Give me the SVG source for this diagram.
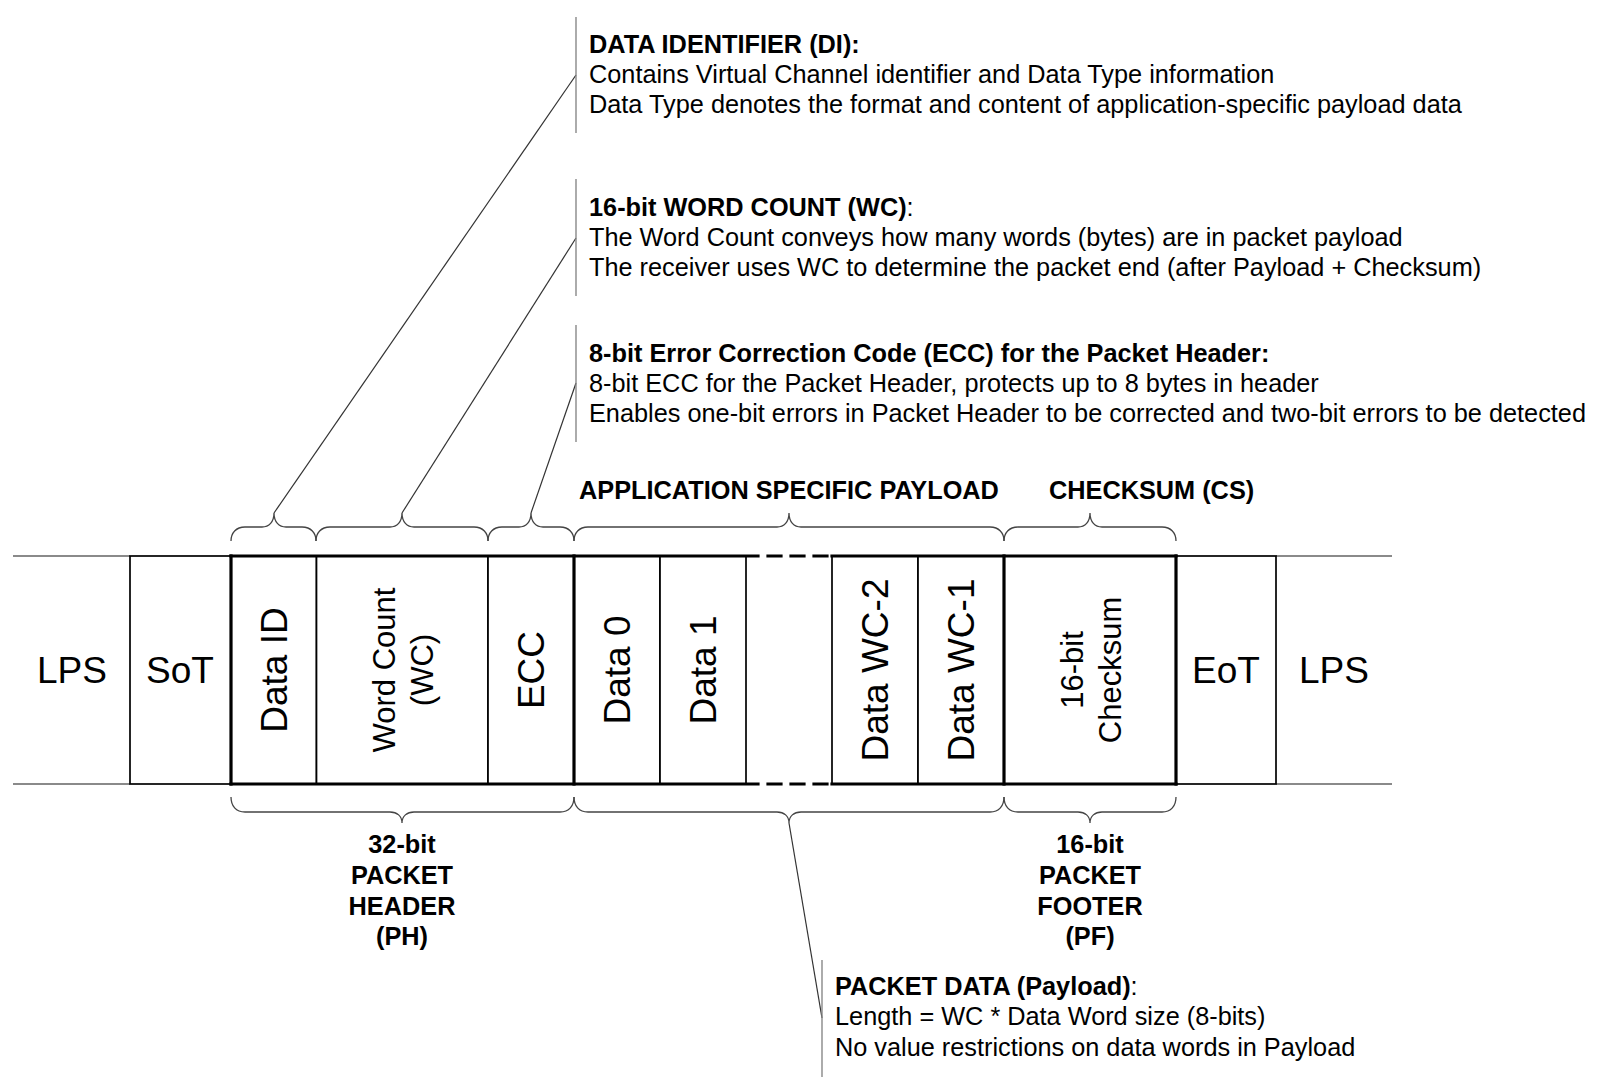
<svg xmlns="http://www.w3.org/2000/svg" width="1598" height="1080" viewBox="0 0 1598 1080">
<style>
  text { font-family: "Liberation Sans", Arial, Helvetica, sans-serif; fill: #000; }
  .big { font-size: 37px; }
  .mid { font-size: 31px; }
  .note { font-size: 25.3px; }
  .b { font-weight: bold; }
  .cell { fill: #fff; stroke: #000; stroke-width: 1.7; }
  .thick { stroke: #000; stroke-width: 3.2; fill: none; stroke-linecap: square; }
  .thin { stroke: #000; stroke-width: 1.7; fill: none; }
  .lps { stroke: #8a8a8a; stroke-width: 2; fill: none; }
  .brace { stroke: #444; stroke-width: 1.3; fill: none; }
  .leader { stroke: #333; stroke-width: 1.2; fill: none; }
  .bar { stroke: #888; stroke-width: 1.4; fill: none; }
</style>
<rect x="0" y="0" width="1598" height="1080" fill="#fff"/>

<!-- LPS lines -->
<g id="lps-left">
  <line class="lps" x1="13" y1="556" x2="130" y2="556"/>
  <line class="lps" x1="13" y1="784" x2="130" y2="784"/>
  <text class="big" x="72" y="683" text-anchor="middle">LPS</text>
</g>
<g id="lps-right">
  <line class="lps" x1="1276" y1="556" x2="1392" y2="556"/>
  <line class="lps" x1="1276" y1="784" x2="1392" y2="784"/>
  <text class="big" x="1334" y="683" text-anchor="middle">LPS</text>
</g>

<g id="sot">
  <rect class="cell" x="130" y="556" width="101" height="228"/>
  <text class="big" x="180" y="683" text-anchor="middle">SoT</text>
</g>
<g id="eot">
  <rect class="cell" x="1176" y="556" width="100" height="228"/>
  <text class="big" x="1226" y="683" text-anchor="middle">EoT</text>
</g>

<g id="data-id">
  <rect class="cell" x="231" y="556" width="85.5" height="228"/>
  <text class="big" transform="translate(273.5,670) rotate(-90)" x="0" y="13" text-anchor="middle">Data ID</text>
</g>
<g id="word-count">
  <rect class="cell" x="316.5" y="556" width="171.5" height="228"/>
  <text class="mid" transform="translate(402,670) rotate(-90)" text-anchor="middle"><tspan x="0" y="-7">Word Count</tspan><tspan x="0" y="31">(WC)</tspan></text>
</g>
<g id="ecc">
  <rect class="cell" x="488" y="556" width="86" height="228"/>
  <text class="big" transform="translate(531,670) rotate(-90)" x="0" y="13" text-anchor="middle">ECC</text>
</g>
<g id="data0">
  <rect class="cell" x="574" y="556" width="86" height="228"/>
  <text class="big" transform="translate(617,670) rotate(-90)" x="0" y="13" text-anchor="middle">Data 0</text>
</g>
<g id="data1">
  <rect class="cell" x="660" y="556" width="86" height="228"/>
  <text class="big" transform="translate(703,670) rotate(-90)" x="0" y="13" text-anchor="middle">Data 1</text>
</g>
<g id="data-wc2">
  <rect class="cell" x="832" y="556" width="86" height="228"/>
  <text class="big" transform="translate(875,670) rotate(-90)" x="0" y="13" text-anchor="middle">Data WC-2</text>
</g>
<g id="data-wc1">
  <rect class="cell" x="918" y="556" width="86" height="228"/>
  <text class="big" transform="translate(961,670) rotate(-90)" x="0" y="13" text-anchor="middle">Data WC-1</text>
</g>
<g id="checksum">
  <rect class="cell" x="1004" y="556" width="172" height="228"/>
  <text class="mid" transform="translate(1090,670) rotate(-90)" text-anchor="middle"><tspan x="0" y="-7">16-bit</tspan><tspan x="0" y="31">Checksum</tspan></text>
</g>

<!-- packet frame (thick outline and dashed gap) -->
<g id="packet-frame">
  <line class="thick" x1="231" y1="556" x2="758" y2="556"/>
  <line class="thick" x1="231" y1="784" x2="758" y2="784"/>
  <line class="thick" x1="832" y1="556" x2="1176" y2="556"/>
  <line class="thick" x1="832" y1="784" x2="1176" y2="784"/>
  <path class="thick" stroke-linecap="butt" d="M768,556 H781 M791,556 H804 M814,556 H827 M768,784 H781 M791,784 H804 M814,784 H827"/>
  <line class="thick" x1="231" y1="556" x2="231" y2="784"/>
  <line class="thick" x1="574" y1="556" x2="574" y2="784"/>
  <line class="thick" x1="1004" y1="556" x2="1004" y2="784"/>
  <line class="thick" x1="1176" y1="556" x2="1176" y2="784"/>
</g>

<!-- connectors: braces, leaders, annotation bars -->
<g id="connectors">
  <!-- top braces -->
  <path class="brace" d="M231,541 C231,533 236,527 245,527 L262,527 C269,527 274,522 274,513 C274,522 279,527 286,527 L302,527 C311,527 316,533 316,541"/>
  <path class="brace" d="M316,541 C316,533 321,527 330,527 L390,527 C397,527 402,522 402,513 C402,522 407,527 414,527 L474,527 C483,527 488,533 488,541"/>
  <path class="brace" d="M488,541 C488,533 493,527 502,527 L519,527 C526,527 531,522 531,513 C531,522 536,527 543,527 L560,527 C569,527 574,533 574,541"/>
  <path class="brace" d="M574,541 C574,533 579,527 588,527 L777,527 C784,527 789,522 789,513 C789,522 794,527 801,527 L990,527 C999,527 1004,533 1004,541"/>
  <path class="brace" d="M1004,541 C1004,533 1009,527 1018,527 L1078,527 C1085,527 1090,522 1090,513 C1090,522 1095,527 1102,527 L1162,527 C1171,527 1176,533 1176,541"/>
  <!-- bottom braces -->
  <path class="brace" d="M231,797 C231,806 236,812 245,812 L390,812 C397,812 402,816 402,823 C402,816 407,812 414,812 L560,812 C569,812 574,806 574,797"/>
  <path class="brace" d="M574,797 C574,806 579,812 588,812 L777,812 C784,812 789,816 789,823 C789,816 794,812 801,812 L990,812 C999,812 1004,806 1004,797"/>
  <path class="brace" d="M1004,797 C1004,806 1009,812 1018,812 L1078,812 C1085,812 1090,816 1090,823 C1090,816 1095,812 1102,812 L1162,812 C1171,812 1176,806 1176,797"/>
  <!-- leaders -->
  <line class="leader" x1="274" y1="513" x2="576" y2="75"/>
  <line class="leader" x1="402" y1="513" x2="576" y2="238"/>
  <line class="leader" x1="531" y1="513" x2="576" y2="383"/>
  <line class="leader" x1="789" y1="823" x2="822" y2="1018"/>
  <!-- bars -->
  <line class="bar" x1="576" y1="17" x2="576" y2="133"/>
  <line class="bar" x1="576" y1="179" x2="576" y2="296"/>
  <line class="bar" x1="576" y1="325" x2="576" y2="442"/>
  <line class="bar" x1="822" y1="960" x2="822" y2="1077"/>
</g>

<!-- annotations -->
<g id="note-di">
  <text class="note b" x="589" y="53">DATA IDENTIFIER (DI):</text>
  <text class="note" x="589" y="83">Contains Virtual Channel identifier and Data Type information</text>
  <text class="note" x="589" y="113">Data Type denotes the format and content of application-specific payload data</text>
</g>
<g id="note-wc">
  <text class="note" x="589" y="216"><tspan class="b">16-bit WORD COUNT (WC)</tspan>:</text>
  <text class="note" x="589" y="246">The Word Count conveys how many words (bytes) are in packet payload</text>
  <text class="note" x="589" y="276">The receiver uses WC to determine the packet end (after Payload + Checksum)</text>
</g>
<g id="note-ecc">
  <text class="note b" x="589" y="362">8-bit Error Correction Code (ECC) for the Packet Header:</text>
  <text class="note" x="589" y="392">8-bit ECC for the Packet Header, protects up to 8 bytes in header</text>
  <text class="note" x="589" y="422">Enables one-bit errors in Packet Header to be corrected and two-bit errors to be detected</text>
</g>
<g id="label-payload">
  <text class="note b" x="789" y="499" text-anchor="middle">APPLICATION SPECIFIC PAYLOAD</text>
</g>
<g id="label-cs">
  <text class="note b" x="1049" y="499">CHECKSUM (CS)</text>
</g>
<g id="label-ph">
  <text class="note b" text-anchor="middle"><tspan x="402" y="853">32-bit</tspan><tspan x="402" y="884">PACKET</tspan><tspan x="402" y="914.5">HEADER</tspan><tspan x="402" y="945">(PH)</tspan></text>
</g>
<g id="label-pf">
  <text class="note b" text-anchor="middle"><tspan x="1090" y="853">16-bit</tspan><tspan x="1090" y="884">PACKET</tspan><tspan x="1090" y="914.5">FOOTER</tspan><tspan x="1090" y="945">(PF)</tspan></text>
</g>
<g id="note-payload">
  <text class="note" x="835" y="995"><tspan class="b">PACKET DATA (Payload)</tspan>:</text>
  <text class="note" x="835" y="1025">Length = WC * Data Word size (8-bits)</text>
  <text class="note" x="835" y="1056">No value restrictions on data words in Payload</text>
</g>
</svg>
